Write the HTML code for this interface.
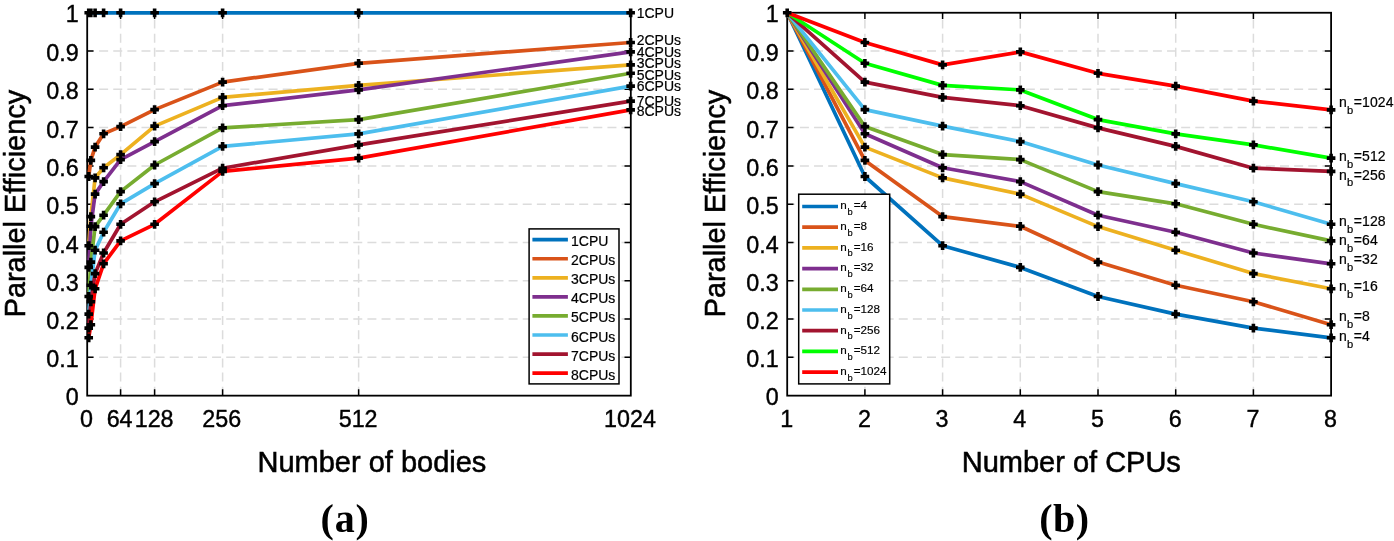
<!DOCTYPE html>
<html lang="en"><head><meta charset="utf-8"><title>Parallel efficiency</title>
<style>html,body{margin:0;padding:0;background:#fff}body{width:1394px;height:541px;overflow:hidden}svg{display:block}text{font-family:"Liberation Sans",Arial,sans-serif;fill:#000}.t{font-size:23.3px;stroke:#000;stroke-width:.4px}.l{font-size:29px;stroke:#000;stroke-width:.55px}.e{font-size:14px;stroke:#000;stroke-width:.2px}.g{font-size:11.7px;stroke:#000;stroke-width:.15px}.cap{font-family:"Liberation Serif","Times New Roman",serif;font-weight:bold;font-size:40px}.s{fill:none;stroke-linejoin:round;stroke-linecap:butt}</style></head><body>
<svg width="1394" height="541" viewBox="0 0 1394 541">
<rect width="1394" height="541" fill="#fff"/>
<g stroke="#dcdcdc" stroke-width="1.5" stroke-dasharray="9 5.12" fill="none">
<path d="M87.2 357.36H630.8" stroke-dashoffset="2.2"/>
<path d="M87.2 319.07H630.8" stroke-dashoffset="2.2"/>
<path d="M87.2 280.78H630.8" stroke-dashoffset="2.2"/>
<path d="M87.2 242.49H630.8" stroke-dashoffset="2.2"/>
<path d="M87.2 204.2H630.8" stroke-dashoffset="2.2"/>
<path d="M87.2 165.91H630.8" stroke-dashoffset="2.2"/>
<path d="M87.2 127.62H630.8" stroke-dashoffset="2.2"/>
<path d="M87.2 89.33H630.8" stroke-dashoffset="2.2"/>
<path d="M87.2 51.04H630.8" stroke-dashoffset="2.2"/>
<path d="M120.6 395.65V12.75"/>
<path d="M154.61 395.65V12.75"/>
<path d="M222.61 395.65V12.75"/>
<path d="M358.63 395.65V12.75"/>
</g>
<rect x="87.2" y="12.75" width="543.6" height="382.9" fill="none" stroke="#000" stroke-width="1.8"/>
<path d="M87.2 357.36h6.3M630.8 357.36h-6.3M87.2 319.07h6.3M630.8 319.07h-6.3M87.2 280.78h6.3M630.8 280.78h-6.3M87.2 242.49h6.3M630.8 242.49h-6.3M87.2 204.2h6.3M630.8 204.2h-6.3M87.2 165.91h6.3M630.8 165.91h-6.3M87.2 127.62h6.3M630.8 127.62h-6.3M87.2 89.33h6.3M630.8 89.33h-6.3M87.2 51.04h6.3M630.8 51.04h-6.3M120.6 395.65v-6.3M120.6 12.75v6.3M154.61 395.65v-6.3M154.61 12.75v6.3M222.61 395.65v-6.3M222.61 12.75v6.3M358.63 395.65v-6.3M358.63 12.75v6.3" stroke="#000" stroke-width="1.5" fill="none"/>
<g class="t" text-anchor="end">
<text x="78.6" y="404.95">0</text>
<text x="78.6" y="367.06">0.1</text>
<text x="78.6" y="329.17">0.2</text>
<text x="78.6" y="290.88">0.3</text>
<text x="78.6" y="252.59">0.4</text>
<text x="78.6" y="214.3">0.5</text>
<text x="78.6" y="176.01">0.6</text>
<text x="78.6" y="137.72">0.7</text>
<text x="78.6" y="99.43">0.8</text>
<text x="78.6" y="61.14">0.9</text>
<text x="78.6" y="21.95">1</text>
</g>
<g class="t" text-anchor="middle">
<text x="86.6" y="426.6">0</text>
<text x="119.6" y="426.6">64</text>
<text x="154.11" y="426.6">128</text>
<text x="221.71" y="426.6">256</text>
<text x="358.13" y="426.6">512</text>
<text x="629.95" y="426.6">1024</text>
</g>
<g class="s" stroke-width="3.7">
<polyline points="88.73,12.8 90.85,12.8 95.1,12.8 103.6,12.8 120.6,12.8 154.61,12.8 222.61,12.8 358.63,12.8 630.65,12.8" stroke="#0072BD"/>
<polyline points="88.73,176.5 90.85,160.4 95.1,147.1 103.6,133.8 120.6,126.6 154.61,109.6 222.61,82.1 358.63,63.3 630.65,42.5" stroke="#D95319"/>
<polyline points="88.73,245.7 90.85,216.6 95.1,177.9 103.6,167.8 120.6,154.6 154.61,126.1 222.61,97.4 358.63,85.4 630.65,64.9" stroke="#EDB120"/>
<polyline points="88.73,267.4 90.85,226.3 95.1,194.1 103.6,181.6 120.6,159.6 154.61,141.6 222.61,105.7 358.63,89.9 630.65,51.9" stroke="#7E2F8E"/>
<polyline points="88.73,296.5 90.85,262.1 95.1,226.6 103.6,215.2 120.6,191.6 154.61,165 222.61,127.9 358.63,119.6 630.65,73.3" stroke="#77AC30"/>
<polyline points="88.73,314.1 90.85,285.2 95.1,250.2 103.6,232.2 120.6,203.8 154.61,183.6 222.61,146.4 358.63,133.9 630.65,86.1" stroke="#4DBEEE"/>
<polyline points="88.73,328.1 90.85,301.8 95.1,273.6 103.6,253 120.6,224.3 154.61,201.8 222.61,168.2 358.63,144.9 630.65,101.1" stroke="#A2142F"/>
<polyline points="88.73,337.8 90.85,324.7 95.1,288.8 103.6,263.8 120.6,240.9 154.61,224.3 222.61,171.4 358.63,158.1 630.65,109.9" stroke="#FF0000"/>
</g>
<path d="M84.43 12.8h8.6M88.73 8.4v8.8M86.55 12.8h8.6M90.85 8.4v8.8M90.8 12.8h8.6M95.1 8.4v8.8M99.3 12.8h8.6M103.6 8.4v8.8M116.3 12.8h8.6M120.6 8.4v8.8M150.31 12.8h8.6M154.61 8.4v8.8M218.31 12.8h8.6M222.61 8.4v8.8M354.33 12.8h8.6M358.63 8.4v8.8M626.35 12.8h8.6M630.65 8.4v8.8M84.43 176.5h8.6M88.73 172.1v8.8M86.55 160.4h8.6M90.85 156v8.8M90.8 147.1h8.6M95.1 142.7v8.8M99.3 133.8h8.6M103.6 129.4v8.8M116.3 126.6h8.6M120.6 122.2v8.8M150.31 109.6h8.6M154.61 105.2v8.8M218.31 82.1h8.6M222.61 77.7v8.8M354.33 63.3h8.6M358.63 58.9v8.8M626.35 42.5h8.6M630.65 38.1v8.8M84.43 245.7h8.6M88.73 241.3v8.8M86.55 216.6h8.6M90.85 212.2v8.8M90.8 177.9h8.6M95.1 173.5v8.8M99.3 167.8h8.6M103.6 163.4v8.8M116.3 154.6h8.6M120.6 150.2v8.8M150.31 126.1h8.6M154.61 121.7v8.8M218.31 97.4h8.6M222.61 93v8.8M354.33 85.4h8.6M358.63 81v8.8M626.35 64.9h8.6M630.65 60.5v8.8M84.43 267.4h8.6M88.73 263v8.8M86.55 226.3h8.6M90.85 221.9v8.8M90.8 194.1h8.6M95.1 189.7v8.8M99.3 181.6h8.6M103.6 177.2v8.8M116.3 159.6h8.6M120.6 155.2v8.8M150.31 141.6h8.6M154.61 137.2v8.8M218.31 105.7h8.6M222.61 101.3v8.8M354.33 89.9h8.6M358.63 85.5v8.8M626.35 51.9h8.6M630.65 47.5v8.8M84.43 296.5h8.6M88.73 292.1v8.8M86.55 262.1h8.6M90.85 257.7v8.8M90.8 226.6h8.6M95.1 222.2v8.8M99.3 215.2h8.6M103.6 210.8v8.8M116.3 191.6h8.6M120.6 187.2v8.8M150.31 165h8.6M154.61 160.6v8.8M218.31 127.9h8.6M222.61 123.5v8.8M354.33 119.6h8.6M358.63 115.2v8.8M626.35 73.3h8.6M630.65 68.9v8.8M84.43 314.1h8.6M88.73 309.7v8.8M86.55 285.2h8.6M90.85 280.8v8.8M90.8 250.2h8.6M95.1 245.8v8.8M99.3 232.2h8.6M103.6 227.8v8.8M116.3 203.8h8.6M120.6 199.4v8.8M150.31 183.6h8.6M154.61 179.2v8.8M218.31 146.4h8.6M222.61 142v8.8M354.33 133.9h8.6M358.63 129.5v8.8M626.35 86.1h8.6M630.65 81.7v8.8M84.43 328.1h8.6M88.73 323.7v8.8M86.55 301.8h8.6M90.85 297.4v8.8M90.8 273.6h8.6M95.1 269.2v8.8M99.3 253h8.6M103.6 248.6v8.8M116.3 224.3h8.6M120.6 219.9v8.8M150.31 201.8h8.6M154.61 197.4v8.8M218.31 168.2h8.6M222.61 163.8v8.8M354.33 144.9h8.6M358.63 140.5v8.8M626.35 101.1h8.6M630.65 96.7v8.8M84.43 337.8h8.6M88.73 333.4v8.8M86.55 324.7h8.6M90.85 320.3v8.8M90.8 288.8h8.6M95.1 284.4v8.8M99.3 263.8h8.6M103.6 259.4v8.8M116.3 240.9h8.6M120.6 236.5v8.8M150.31 224.3h8.6M154.61 219.9v8.8M218.31 171.4h8.6M222.61 167v8.8M354.33 158.1h8.6M358.63 153.7v8.8M626.35 109.9h8.6M630.65 105.5v8.8" stroke="#000" stroke-width="3.6" fill="none"/>
<g class="e">
<text x="636.7" y="18.1">1CPU</text>
<text x="636.7" y="44.6">2CPUs</text>
<text x="636.7" y="56.85">4CPUs</text>
<text x="636.7" y="68">3CPUs</text>
<text x="636.7" y="80.1">5CPUs</text>
<text x="636.7" y="90.5">6CPUs</text>
<text x="636.7" y="106">7CPUs</text>
<text x="636.7" y="115.9">8CPUs</text>
</g>
<rect x="529.1" y="228.9" width="89.9" height="155" fill="#fff" stroke="#000" stroke-width="1.5"/>
<g class="e">
<path d="M532.4 239.7H567.9" stroke="#0072BD" stroke-width="3.7"/>
<text x="571" y="246.2">1CPU</text>
<path d="M532.4 258.76H567.9" stroke="#D95319" stroke-width="3.7"/>
<text x="571" y="265.26">2CPUs</text>
<path d="M532.4 277.82H567.9" stroke="#EDB120" stroke-width="3.7"/>
<text x="571" y="284.32">3CPUs</text>
<path d="M532.4 296.88H567.9" stroke="#7E2F8E" stroke-width="3.7"/>
<text x="571" y="303.38">4CPUs</text>
<path d="M532.4 315.94H567.9" stroke="#77AC30" stroke-width="3.7"/>
<text x="571" y="322.44">5CPUs</text>
<path d="M532.4 335H567.9" stroke="#4DBEEE" stroke-width="3.7"/>
<text x="571" y="341.5">6CPUs</text>
<path d="M532.4 354.06H567.9" stroke="#A2142F" stroke-width="3.7"/>
<text x="571" y="360.56">7CPUs</text>
<path d="M532.4 373.12H567.9" stroke="#FF0000" stroke-width="3.7"/>
<text x="571" y="379.62">8CPUs</text>
</g>
<text class="l" text-anchor="middle" x="371.9" y="471.6">Number of bodies</text>
<text class="l" style="font-size:28.9px" text-anchor="middle" transform="translate(25.2 203.6) rotate(-90)">Parallel Efficiency</text>
<text class="cap" text-anchor="middle" letter-spacing="0.8" x="345.1" y="531.8">(a)</text>
<g stroke="#dcdcdc" stroke-width="1.5" stroke-dasharray="9 5.12" fill="none">
<path d="M787.2 357.36H1331.1" stroke-dashoffset="1.4"/>
<path d="M787.2 319.07H1331.1" stroke-dashoffset="1.4"/>
<path d="M787.2 280.78H1331.1" stroke-dashoffset="1.4"/>
<path d="M787.2 242.49H1331.1" stroke-dashoffset="1.4"/>
<path d="M787.2 204.2H1331.1" stroke-dashoffset="1.4"/>
<path d="M787.2 165.91H1331.1" stroke-dashoffset="1.4"/>
<path d="M787.2 127.62H1331.1" stroke-dashoffset="1.4"/>
<path d="M787.2 89.33H1331.1" stroke-dashoffset="1.4"/>
<path d="M787.2 51.04H1331.1" stroke-dashoffset="1.4"/>
<path d="M864.9 395.65V12.75"/>
<path d="M942.6 395.65V12.75"/>
<path d="M1020.3 395.65V12.75"/>
<path d="M1098 395.65V12.75"/>
<path d="M1175.7 395.65V12.75"/>
<path d="M1253.4 395.65V12.75"/>
</g>
<rect x="787.2" y="12.75" width="543.9" height="382.9" fill="none" stroke="#000" stroke-width="1.8"/>
<path d="M787.2 357.36h6.3M1331.1 357.36h-6.3M787.2 319.07h6.3M1331.1 319.07h-6.3M787.2 280.78h6.3M1331.1 280.78h-6.3M787.2 242.49h6.3M1331.1 242.49h-6.3M787.2 204.2h6.3M1331.1 204.2h-6.3M787.2 165.91h6.3M1331.1 165.91h-6.3M787.2 127.62h6.3M1331.1 127.62h-6.3M787.2 89.33h6.3M1331.1 89.33h-6.3M787.2 51.04h6.3M1331.1 51.04h-6.3M864.9 395.65v-6.3M864.9 12.75v6.3M942.6 395.65v-6.3M942.6 12.75v6.3M1020.3 395.65v-6.3M1020.3 12.75v6.3M1098 395.65v-6.3M1098 12.75v6.3M1175.7 395.65v-6.3M1175.7 12.75v6.3M1253.4 395.65v-6.3M1253.4 12.75v6.3" stroke="#000" stroke-width="1.5" fill="none"/>
<g class="t" text-anchor="end">
<text x="778.6" y="404.95">0</text>
<text x="778.6" y="367.06">0.1</text>
<text x="778.6" y="329.17">0.2</text>
<text x="778.6" y="290.88">0.3</text>
<text x="778.6" y="252.59">0.4</text>
<text x="778.6" y="214.3">0.5</text>
<text x="778.6" y="176.01">0.6</text>
<text x="778.6" y="137.72">0.7</text>
<text x="778.6" y="99.43">0.8</text>
<text x="778.6" y="61.14">0.9</text>
<text x="778.6" y="21.95">1</text>
</g>
<g class="t" text-anchor="middle">
<text x="786.7" y="426.6">1</text>
<text x="864.4" y="426.6">2</text>
<text x="942.1" y="426.6">3</text>
<text x="1019.8" y="426.6">4</text>
<text x="1097.5" y="426.6">5</text>
<text x="1175.2" y="426.6">6</text>
<text x="1252.9" y="426.6">7</text>
<text x="1330.6" y="426.6">8</text>
</g>
<g class="s" stroke-width="3.7">
<polyline points="787.2,12.8 864.9,176.5 942.6,245.7 1020.3,267.4 1098,296.5 1175.7,314.1 1253.4,328.1 1331.1,337.8" stroke="#0072BD"/>
<polyline points="787.2,12.8 864.9,160.4 942.6,216.6 1020.3,226.3 1098,262.1 1175.7,285.2 1253.4,301.8 1331.1,324.7" stroke="#D95319"/>
<polyline points="787.2,12.8 864.9,147.1 942.6,177.9 1020.3,194.1 1098,226.6 1175.7,250.2 1253.4,273.6 1331.1,288.8" stroke="#EDB120"/>
<polyline points="787.2,12.8 864.9,133.8 942.6,167.8 1020.3,181.6 1098,215.2 1175.7,232.2 1253.4,253 1331.1,263.8" stroke="#7E2F8E"/>
<polyline points="787.2,12.8 864.9,126.6 942.6,154.6 1020.3,159.6 1098,191.6 1175.7,203.8 1253.4,224.3 1331.1,240.9" stroke="#77AC30"/>
<polyline points="787.2,12.8 864.9,109.6 942.6,126.1 1020.3,141.6 1098,165 1175.7,183.6 1253.4,201.8 1331.1,224.3" stroke="#4DBEEE"/>
<polyline points="787.2,12.8 864.9,82.1 942.6,97.4 1020.3,105.7 1098,127.9 1175.7,146.4 1253.4,168.2 1331.1,171.4" stroke="#A2142F"/>
<polyline points="787.2,12.8 864.9,63.3 942.6,85.4 1020.3,89.9 1098,119.6 1175.7,133.9 1253.4,144.9 1331.1,158.1" stroke="#00FF00"/>
<polyline points="787.2,12.8 864.9,42.5 942.6,64.9 1020.3,51.9 1098,73.3 1175.7,86.1 1253.4,101.1 1331.1,109.9" stroke="#FF0000"/>
</g>
<path d="M782.9 12.8h8.6M787.2 8.4v8.8M860.6 176.5h8.6M864.9 172.1v8.8M938.3 245.7h8.6M942.6 241.3v8.8M1016 267.4h8.6M1020.3 263v8.8M1093.7 296.5h8.6M1098 292.1v8.8M1171.4 314.1h8.6M1175.7 309.7v8.8M1249.1 328.1h8.6M1253.4 323.7v8.8M1326.8 337.8h8.6M1331.1 333.4v8.8M782.9 12.8h8.6M787.2 8.4v8.8M860.6 160.4h8.6M864.9 156v8.8M938.3 216.6h8.6M942.6 212.2v8.8M1016 226.3h8.6M1020.3 221.9v8.8M1093.7 262.1h8.6M1098 257.7v8.8M1171.4 285.2h8.6M1175.7 280.8v8.8M1249.1 301.8h8.6M1253.4 297.4v8.8M1326.8 324.7h8.6M1331.1 320.3v8.8M782.9 12.8h8.6M787.2 8.4v8.8M860.6 147.1h8.6M864.9 142.7v8.8M938.3 177.9h8.6M942.6 173.5v8.8M1016 194.1h8.6M1020.3 189.7v8.8M1093.7 226.6h8.6M1098 222.2v8.8M1171.4 250.2h8.6M1175.7 245.8v8.8M1249.1 273.6h8.6M1253.4 269.2v8.8M1326.8 288.8h8.6M1331.1 284.4v8.8M782.9 12.8h8.6M787.2 8.4v8.8M860.6 133.8h8.6M864.9 129.4v8.8M938.3 167.8h8.6M942.6 163.4v8.8M1016 181.6h8.6M1020.3 177.2v8.8M1093.7 215.2h8.6M1098 210.8v8.8M1171.4 232.2h8.6M1175.7 227.8v8.8M1249.1 253h8.6M1253.4 248.6v8.8M1326.8 263.8h8.6M1331.1 259.4v8.8M782.9 12.8h8.6M787.2 8.4v8.8M860.6 126.6h8.6M864.9 122.2v8.8M938.3 154.6h8.6M942.6 150.2v8.8M1016 159.6h8.6M1020.3 155.2v8.8M1093.7 191.6h8.6M1098 187.2v8.8M1171.4 203.8h8.6M1175.7 199.4v8.8M1249.1 224.3h8.6M1253.4 219.9v8.8M1326.8 240.9h8.6M1331.1 236.5v8.8M782.9 12.8h8.6M787.2 8.4v8.8M860.6 109.6h8.6M864.9 105.2v8.8M938.3 126.1h8.6M942.6 121.7v8.8M1016 141.6h8.6M1020.3 137.2v8.8M1093.7 165h8.6M1098 160.6v8.8M1171.4 183.6h8.6M1175.7 179.2v8.8M1249.1 201.8h8.6M1253.4 197.4v8.8M1326.8 224.3h8.6M1331.1 219.9v8.8M782.9 12.8h8.6M787.2 8.4v8.8M860.6 82.1h8.6M864.9 77.7v8.8M938.3 97.4h8.6M942.6 93v8.8M1016 105.7h8.6M1020.3 101.3v8.8M1093.7 127.9h8.6M1098 123.5v8.8M1171.4 146.4h8.6M1175.7 142v8.8M1249.1 168.2h8.6M1253.4 163.8v8.8M1326.8 171.4h8.6M1331.1 167v8.8M782.9 12.8h8.6M787.2 8.4v8.8M860.6 63.3h8.6M864.9 58.9v8.8M938.3 85.4h8.6M942.6 81v8.8M1016 89.9h8.6M1020.3 85.5v8.8M1093.7 119.6h8.6M1098 115.2v8.8M1171.4 133.9h8.6M1175.7 129.5v8.8M1249.1 144.9h8.6M1253.4 140.5v8.8M1326.8 158.1h8.6M1331.1 153.7v8.8M782.9 12.8h8.6M787.2 8.4v8.8M860.6 42.5h8.6M864.9 38.1v8.8M938.3 64.9h8.6M942.6 60.5v8.8M1016 51.9h8.6M1020.3 47.5v8.8M1093.7 73.3h8.6M1098 68.9v8.8M1171.4 86.1h8.6M1175.7 81.7v8.8M1249.1 101.1h8.6M1253.4 96.7v8.8M1326.8 109.9h8.6M1331.1 105.5v8.8" stroke="#000" stroke-width="3.6" fill="none"/>
<g class="e">
<text x="1339" y="341.3">n<tspan dx="0.3" dy="6.86" font-size="11.2">b</tspan><tspan dy="-6.86" dx="0.4" letter-spacing="0.12">=4</tspan></text>
<text x="1339" y="321">n<tspan dx="0.3" dy="6.86" font-size="11.2">b</tspan><tspan dy="-6.86" dx="0.4" letter-spacing="0.12">=8</tspan></text>
<text x="1339" y="290.7">n<tspan dx="0.3" dy="6.86" font-size="11.2">b</tspan><tspan dy="-6.86" dx="0.4" letter-spacing="0.12">=16</tspan></text>
<text x="1339" y="263.9">n<tspan dx="0.3" dy="6.86" font-size="11.2">b</tspan><tspan dy="-6.86" dx="0.4" letter-spacing="0.12">=32</tspan></text>
<text x="1339" y="244.9">n<tspan dx="0.3" dy="6.86" font-size="11.2">b</tspan><tspan dy="-6.86" dx="0.4" letter-spacing="0.12">=64</tspan></text>
<text x="1339" y="225.8">n<tspan dx="0.3" dy="6.86" font-size="11.2">b</tspan><tspan dy="-6.86" dx="0.4" letter-spacing="0.12">=128</tspan></text>
<text x="1339" y="179.6">n<tspan dx="0.3" dy="6.86" font-size="11.2">b</tspan><tspan dy="-6.86" dx="0.4" letter-spacing="0.12">=256</tspan></text>
<text x="1339" y="160.7">n<tspan dx="0.3" dy="6.86" font-size="11.2">b</tspan><tspan dy="-6.86" dx="0.4" letter-spacing="0.12">=512</tspan></text>
<text x="1339" y="106.85">n<tspan dx="0.3" dy="6.86" font-size="11.2">b</tspan><tspan dy="-6.86" dx="0.4" letter-spacing="0.12">=1024</tspan></text>
</g>
<rect x="798.7" y="194.2" width="91" height="189.7" fill="#fff" stroke="#000" stroke-width="1.5"/>
<g class="g">
<path d="M802.2 206.5H838" stroke="#0072BD" stroke-width="3.7"/>
<text x="840.2" y="209.3">n<tspan dx="0.7" dy="5.73" font-size="9.36">b</tspan><tspan dy="-5.73" dx="1.1" letter-spacing="0">=4</tspan></text>
<path d="M802.2 227.2H838" stroke="#D95319" stroke-width="3.7"/>
<text x="840.2" y="230">n<tspan dx="0.7" dy="5.73" font-size="9.36">b</tspan><tspan dy="-5.73" dx="1.1" letter-spacing="0">=8</tspan></text>
<path d="M802.2 247.9H838" stroke="#EDB120" stroke-width="3.7"/>
<text x="840.2" y="250.7">n<tspan dx="0.7" dy="5.73" font-size="9.36">b</tspan><tspan dy="-5.73" dx="1.1" letter-spacing="0">=16</tspan></text>
<path d="M802.2 268.6H838" stroke="#7E2F8E" stroke-width="3.7"/>
<text x="840.2" y="271.4">n<tspan dx="0.7" dy="5.73" font-size="9.36">b</tspan><tspan dy="-5.73" dx="1.1" letter-spacing="0">=32</tspan></text>
<path d="M802.2 289.3H838" stroke="#77AC30" stroke-width="3.7"/>
<text x="840.2" y="292.1">n<tspan dx="0.7" dy="5.73" font-size="9.36">b</tspan><tspan dy="-5.73" dx="1.1" letter-spacing="0">=64</tspan></text>
<path d="M802.2 310H838" stroke="#4DBEEE" stroke-width="3.7"/>
<text x="840.2" y="312.8">n<tspan dx="0.7" dy="5.73" font-size="9.36">b</tspan><tspan dy="-5.73" dx="1.1" letter-spacing="0">=128</tspan></text>
<path d="M802.2 330.7H838" stroke="#A2142F" stroke-width="3.7"/>
<text x="840.2" y="333.5">n<tspan dx="0.7" dy="5.73" font-size="9.36">b</tspan><tspan dy="-5.73" dx="1.1" letter-spacing="0">=256</tspan></text>
<path d="M802.2 351.4H838" stroke="#00FF00" stroke-width="3.7"/>
<text x="840.2" y="354.2">n<tspan dx="0.7" dy="5.73" font-size="9.36">b</tspan><tspan dy="-5.73" dx="1.1" letter-spacing="0">=512</tspan></text>
<path d="M802.2 372.1H838" stroke="#FF0000" stroke-width="3.7"/>
<text x="840.2" y="374.9">n<tspan dx="0.7" dy="5.73" font-size="9.36">b</tspan><tspan dy="-5.73" dx="1.1" letter-spacing="0">=1024</tspan></text>
</g>
<text class="l" text-anchor="middle" x="1071.3" y="471.6">Number of CPUs</text>
<text class="l" style="font-size:28.9px" text-anchor="middle" transform="translate(725.2 203.6) rotate(-90)">Parallel Efficiency</text>
<text class="cap" text-anchor="middle" letter-spacing="0.5" x="1064.5" y="531.8">(b)</text>
</svg></body></html>
